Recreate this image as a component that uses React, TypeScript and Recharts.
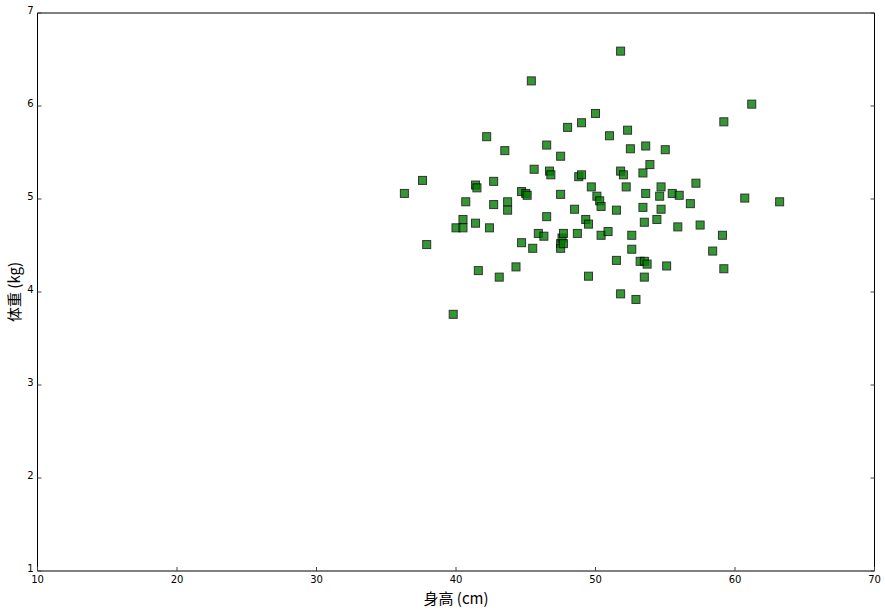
import React from "react";
import { ScatterChart, Scatter, XAxis, YAxis } from "recharts";

// height (cm) and weight (kg)
const heights = [
  36.3, 37.6, 37.9, 39.8, 40.0, 40.5, 40.5, 40.7, 41.4, 41.5,
  41.4, 41.6, 42.2, 42.4, 42.7, 42.7, 43.1, 43.5, 43.7, 43.7,
  44.3, 44.7, 44.7, 45.0, 45.1, 45.4, 45.5, 45.6, 45.9, 46.3,
  46.5, 46.5, 46.7, 46.8, 47.5, 47.5, 47.5, 47.6, 47.5, 47.7,
  47.7, 48.0, 48.5, 48.7, 48.8, 49.0, 49.0, 49.3, 49.5, 49.5,
  49.7, 50.0, 50.1, 50.3, 50.4, 50.4, 50.9, 51.0, 51.5, 51.5,
  51.8, 51.8, 51.8, 52.0, 52.2, 52.3, 52.5, 52.6, 52.6, 52.9,
  53.2, 53.4, 53.4, 53.5, 53.5, 53.5, 53.6, 53.6, 53.7, 53.9,
  54.4, 54.6, 54.7, 54.7, 55.0, 55.1, 55.5, 56.0, 55.9, 56.8,
  57.2, 57.5, 58.4, 59.1, 59.2, 59.2, 60.7, 61.2, 63.2,
];
const weights = [
  5.06, 5.2, 4.51, 3.76, 4.69, 4.78, 4.69, 4.97, 5.15, 5.12,
  4.74, 4.23, 5.67, 4.69, 5.19, 4.94, 4.16, 5.52, 4.97, 4.88,
  4.27, 5.08, 4.53, 5.06, 5.04, 6.27, 4.47, 5.32, 4.63, 4.6,
  5.58, 4.81, 5.3, 5.26, 5.46, 5.05, 4.52, 4.58, 4.47, 4.63,
  4.52, 5.77, 4.89, 4.63, 5.24, 5.26, 5.82, 4.78, 4.73, 4.17,
  5.13, 5.92, 5.03, 4.98, 4.92, 4.61, 4.65, 5.68, 4.34, 4.88,
  5.3, 6.59, 3.98, 5.26, 5.13, 5.74, 5.54, 4.61, 4.46, 3.92,
  4.33, 5.28, 4.91, 4.75, 4.33, 4.16, 5.57, 5.06, 4.3, 5.37,
  4.78, 5.03, 5.13, 4.89, 5.53, 4.28, 5.06, 5.04, 4.7, 4.95,
  5.17, 4.72, 4.44, 4.61, 4.25, 5.83, 5.01, 6.02, 4.97,
];
const xTicks = [10, 20, 30, 40, 50, 60, 70];
const yTicks = [1, 2, 3, 4, 5, 6, 7];

const data = heights.map((h, i) => ({ h, w: weights[i] }));

const tickFont = { fontFamily: "DejaVu Sans, sans-serif", fontSize: 10, fill: "#000" };
const TICK = 4;
const tickColor = "#444";

const BottomTick = (p: any) => (
  <g>
    <line x1={p.x} x2={p.x} y1={p.y} y2={p.y - TICK} stroke={tickColor} />
    <text x={p.x} y={p.y + 12} textAnchor="middle" {...tickFont}>
      {p.payload.value}
    </text>
  </g>
);
const TopTick = (p: any) => (
  <line x1={p.x} x2={p.x} y1={p.y} y2={p.y + TICK} stroke={tickColor} />
);
const LeftTick = (p: any) => (
  <g>
    <line x1={p.x} x2={p.x + TICK} y1={p.y} y2={p.y} stroke={tickColor} />
    <text x={p.x - 4} y={p.y + 1} textAnchor="end" {...tickFont}>
      {p.payload.value}
    </text>
  </g>
);
const RightTick = (p: any) => (
  <line x1={p.x} x2={p.x - TICK} y1={p.y} y2={p.y} stroke={tickColor} />
);

const SquareMarker = (p: any) => (
  <rect
    x={p.cx - 4}
    y={p.cy - 4}
    width={8}
    height={8}
    fill="#008000"
    stroke="#000"
    strokeWidth={1}
    opacity={0.8}
  />
);

export default function App() {
  const axisLine = { stroke: "#000", strokeWidth: 1 };
  return (
    <div style={{ position: "absolute", left: 0, top: 0, width: 885, height: 613, background: "#fff" }}>
      <ScatterChart width={885} height={613} margin={{ top: 12, right: 9.5, bottom: 12, left: 7.5 }}>
        <XAxis
          dataKey="h"
          type="number"
          domain={[10, 70]}
          ticks={xTicks}
          height={30}
          tickSize={0}
          tickMargin={0}
          tickLine={false}
          axisLine={axisLine}
          tick={BottomTick}
          interval={0}
          allowDataOverflow
        />
        <XAxis
          xAxisId="top"
          orientation="top"
          type="number"
          domain={[10, 70]}
          ticks={xTicks}
          height={1}
          tickSize={0}
          tickMargin={0}
          tickLine={false}
          axisLine={axisLine}
          tick={TopTick}
          interval={0}
          allowDataOverflow
        />
        <YAxis
          dataKey="w"
          type="number"
          domain={[1, 7]}
          ticks={yTicks}
          width={30}
          tickSize={0}
          tickMargin={0}
          tickLine={false}
          axisLine={axisLine}
          tick={LeftTick}
          interval={0}
          allowDataOverflow
        />
        <YAxis
          yAxisId="right"
          orientation="right"
          type="number"
          domain={[1, 7]}
          ticks={yTicks}
          width={1}
          tickSize={0}
          tickMargin={0}
          tickLine={false}
          axisLine={axisLine}
          tick={RightTick}
          interval={0}
          allowDataOverflow
        />
        <Scatter data={data} shape={SquareMarker} isAnimationActive={false} />
      </ScatterChart>
      <div
        style={{
          position: "absolute",
          left: 356,
          width: 200,
          top: 588,
          textAlign: "center",
          fontFamily: "'Noto Sans CJK SC', sans-serif",
          fontSize: 15,
          lineHeight: "20px",
          color: "#000",
        }}
      >
        身高 (cm)
      </div>
      <div
        style={{
          position: "absolute",
          left: 14,
          top: 292,
          transform: "translate(-50%, -50%) rotate(-90deg)",
          whiteSpace: "nowrap",
          fontFamily: "'Noto Sans CJK SC', sans-serif",
          fontSize: 15,
          lineHeight: "20px",
          color: "#000",
        }}
      >
        体重 (kg)
      </div>
    </div>
  );
}
